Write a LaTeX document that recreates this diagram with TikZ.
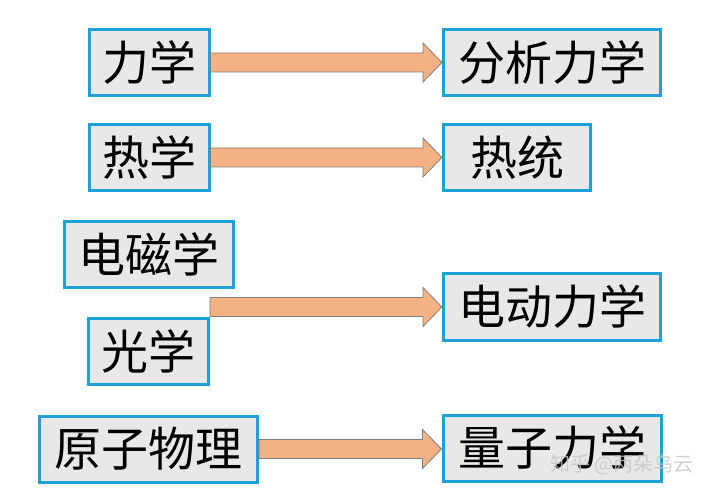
\documentclass[tikz,border=0pt]{standalone}
\usepackage{fontspec}
\newfontfamily\cjk{Noto Sans CJK SC}
\usetikzlibrary{calc}
\definecolor{boxfill}{HTML}{E8E8E8}
\definecolor{boxline}{HTML}{1EA0D8}
\definecolor{arrfill}{HTML}{F4B183}
\definecolor{arrline}{HTML}{7F7F7F}
\tikzset{
  subj/.style={draw=boxline, fill=boxfill, line width=3pt, inner sep=0pt,
    minimum height=66pt, font=\cjk\fontsize{47}{50}\selectfont},
  fatarrow/.style={fill=arrfill, draw=arrline, line width=0.8pt, line join=miter},
  wm/.style={font=\cjk\fontsize{20}{22}\selectfont, text=gray!45, opacity=0.8}
}
\newcommand\fatarr[2]{%
  \path[fatarrow] let \p1=(#1), \p2=(#2) in
    (\x1,\y1+9.5pt) -- (\x2-19pt,\y1+9.5pt) -- (\x2-19pt,\y1+19.5pt) --
    (\x2,\y1) -- (\x2-19pt,\y1-19.5pt) -- (\x2-19pt,\y1-9.5pt) --
    (\x1,\y1-9.5pt) -- cycle;}
\begin{document}
\begin{tikzpicture}[x=1pt,y=-1pt]
\useasboundingbox[fill=white] (0,0) rectangle (718,497);
\node[subj, minimum width=120pt] (lx) at (149,62.5) {力学};
\node[subj, minimum width=120pt] (rx) at (149,157.5) {热学};
\node[subj, minimum width=169pt] (dc) at (149,254.5) {电磁学};
\node[subj, minimum width=120pt] (gx) at (148.5,351.5) {光学};
\node[subj, minimum width=218pt] (yz) at (148.5,449) {原子物理};
\node[subj, minimum width=217pt] (fx) at (552,62.5) {分析力学};
\node[subj, minimum width=147pt] (rt) at (517,157.5) {热统};
\node[subj, minimum width=217pt] (dd) at (552,307) {电动力学};
\node[subj, minimum width=218pt] (lz) at (552,448) {量子力学};
\coordinate (s3) at (gx.east |- dd.west);
\fatarr{lx.east}{fx.west}
\fatarr{rx.east}{rt.west}
\fatarr{s3}{dd.west}
\fatarr{yz.east}{lz.west}
\node[wm] (wmk) at (622,465) {知乎 @两朵乌云};
\end{tikzpicture}
\end{document}
